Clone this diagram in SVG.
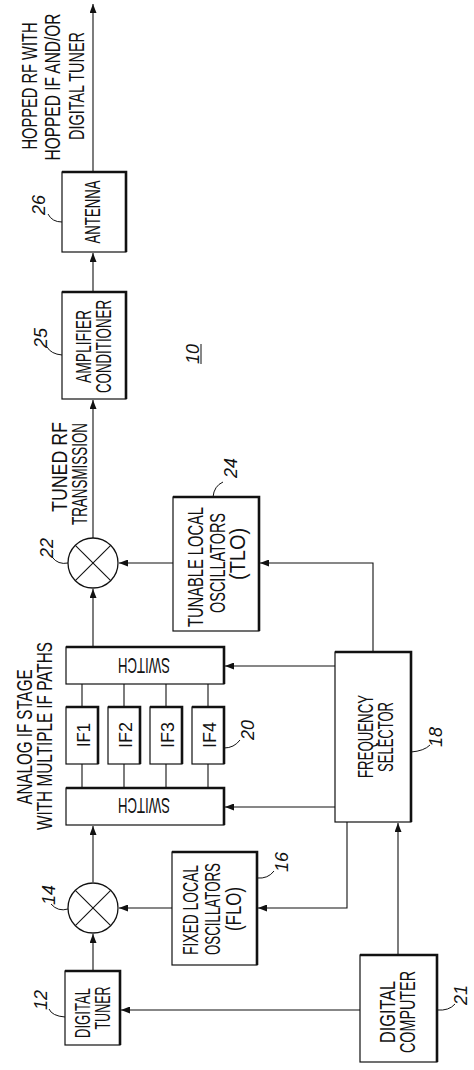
<svg xmlns="http://www.w3.org/2000/svg" width="474" height="1070" viewBox="0 0 474 1070">
<style>
.box{fill:#fff;stroke:#111;stroke-width:1.2}
.thick{fill:none;stroke:#111;stroke-width:2.6}
.t{font-family:"Liberation Sans",Arial,sans-serif;font-size:22px;fill:#111;text-anchor:middle}
.n{font-family:"Liberation Sans",Arial,sans-serif;font-size:18px;font-style:italic;fill:#111;text-anchor:middle}
.ln{fill:none;stroke:#111;stroke-width:1.1}
.ld{fill:none;stroke:#111;stroke-width:1}
</style>
<defs>
<marker id="ar" markerUnits="userSpaceOnUse" markerWidth="9" markerHeight="7" refX="9" refY="3.5" orient="auto">
<path d="M0,0 L9,3.5 L0,7 z" fill="#111"/>
</marker>
</defs>
<rect width="474" height="1070" fill="#fff"/>

<g id="connectors">
<line class="ln" x1="93" y1="971" x2="93" y2="934" marker-end="url(#ar)"/>
<line class="ln" x1="93" y1="882" x2="93" y2="826" marker-end="url(#ar)"/>
<line class="ln" x1="172" y1="908" x2="119" y2="908" marker-end="url(#ar)"/>
<polyline class="ln" points="347,822 347,908 258,908" marker-end="url(#ar)"/>
<line class="ln" x1="398" y1="955" x2="398" y2="823" marker-end="url(#ar)"/>
<line class="ln" x1="360" y1="1010" x2="121" y2="1010" marker-end="url(#ar)"/>
<line class="ln" x1="335" y1="807" x2="225" y2="807" marker-end="url(#ar)"/>
<line class="ln" x1="335" y1="666" x2="225" y2="666" marker-end="url(#ar)"/>
<polyline class="ln" points="373,652 373,563 260,563" marker-end="url(#ar)"/>
<line class="ln" x1="173" y1="563" x2="119" y2="563" marker-end="url(#ar)"/>
<line class="ln" x1="93" y1="647" x2="93" y2="589" marker-end="url(#ar)"/>
<line class="ln" x1="93" y1="538" x2="93" y2="400" marker-end="url(#ar)"/>
<line class="ln" x1="93" y1="292" x2="93" y2="253" marker-end="url(#ar)"/>
<line class="ln" x1="93" y1="172" x2="93" y2="4" marker-end="url(#ar)"/>
<line class="ln" x1="82" y1="684" x2="82" y2="707"/>
<line class="ln" x1="124" y1="684" x2="124" y2="707"/>
<line class="ln" x1="166" y1="684" x2="166" y2="707"/>
<line class="ln" x1="208" y1="684" x2="208" y2="707"/>
<line class="ln" x1="82" y1="764" x2="82" y2="788"/>
<line class="ln" x1="124" y1="764" x2="124" y2="788"/>
<line class="ln" x1="166" y1="764" x2="166" y2="788"/>
<line class="ln" x1="208" y1="764" x2="208" y2="788"/>
</g>

<g id="output-label">
<text class="t" transform="translate(37,86) rotate(-90) scale(0.6,1)" textLength="211.7" lengthAdjust="spacingAndGlyphs">HOPPED RF WITH</text>
<text class="t" transform="translate(60,87) rotate(-90) scale(0.6,1)" textLength="245" lengthAdjust="spacingAndGlyphs">HOPPED IF AND/OR</text>
<text class="t" transform="translate(84,86) rotate(-90) scale(0.6,1)" textLength="180" lengthAdjust="spacingAndGlyphs">DIGITAL TUNER</text>
</g>

<g id="antenna">
<rect class="box" x="62" y="172" width="64" height="80"/>
<path class="thick" d="M62,172 H126 V252"/>
<text class="t" transform="translate(100,212) rotate(-90) scale(0.6,1)" textLength="105" lengthAdjust="spacingAndGlyphs">ANTENNA</text>
<text class="n" transform="translate(45,205) rotate(-90)">26</text>
<path class="ld" d="M62,222 Q52,222 48,214"/>
</g>

<g id="amplifier">
<rect class="box" x="62" y="292" width="64" height="107"/>
<path class="thick" d="M62,292 H126 V399"/>
<text class="t" transform="translate(91,346.5) rotate(-90) scale(0.6,1)" textLength="121.7" lengthAdjust="spacingAndGlyphs">AMPLIFIER</text>
<text class="t" transform="translate(111,346.5) rotate(-90) scale(0.6,1)" textLength="155" lengthAdjust="spacingAndGlyphs">CONDITIONER</text>
<text class="n" transform="translate(47,338) rotate(-90)">25</text>
<path class="ld" d="M62,355 Q51,354 47,347"/>
</g>

<g id="ref10">
<text class="n" transform="translate(199,354) rotate(-90)">10</text>
<line class="ld" x1="201" y1="344" x2="201" y2="364"/>
</g>

<g id="tuned-label">
<text class="t" transform="translate(67,467) rotate(-90) scale(0.6,1)" textLength="150" lengthAdjust="spacingAndGlyphs">TUNED RF</text>
<text class="t" transform="translate(87,474) rotate(-90) scale(0.6,1)" textLength="170" lengthAdjust="spacingAndGlyphs">TRANSMISSION</text>
</g>

<g id="mixer22">
<circle cx="93" cy="563" r="25" fill="#fff" stroke="#111" stroke-width="1.3"/>
<line class="ln" x1="75.3" y1="545.3" x2="110.7" y2="580.7"/>
<line class="ln" x1="110.7" y1="545.3" x2="75.3" y2="580.7"/>
<text class="n" transform="translate(53,548) rotate(-90)">22</text>
<path class="ld" d="M52,557 Q58,565 68,563"/>
</g>

<g id="tlo">
<rect class="box" x="173" y="497" width="86" height="134"/>
<path class="thick" d="M173,497 H259 V631"/>
<text class="t" transform="translate(203,567) rotate(-90) scale(0.6,1)" textLength="200" lengthAdjust="spacingAndGlyphs">TUNABLE LOCAL</text>
<text class="t" transform="translate(225,563) rotate(-90) scale(0.6,1)" textLength="166.7" lengthAdjust="spacingAndGlyphs">OSCILLATORS</text>
<text class="t" transform="translate(245,554) rotate(-90) scale(0.6,1)" textLength="86.7" lengthAdjust="spacingAndGlyphs">(TLO)</text>
<text class="n" transform="translate(237,468) rotate(-90)">24</text>
<path class="ld" d="M213,497 Q214,486 223,482"/>
</g>

<g id="if-label">
<text class="t" transform="translate(32,737) rotate(-90) scale(0.6,1)" textLength="225" lengthAdjust="spacingAndGlyphs">ANALOG IF STAGE</text>
<text class="t" transform="translate(52,736) rotate(-90) scale(0.6,1)" textLength="313.3" lengthAdjust="spacingAndGlyphs">WITH MULTIPLE IF PATHS</text>
</g>

<g id="switch-upper">
<rect class="box" x="66" y="647" width="158" height="37"/>
<path class="thick" d="M66,647 H224 V684"/>
<text class="t" transform="translate(144,658) rotate(180) scale(0.6,1)" textLength="86.7" lengthAdjust="spacingAndGlyphs">SWITCH</text>
</g>

<g id="if1">
<rect class="box" x="66" y="707" width="32" height="57"/>
<path class="thick" d="M66,707 H98 V764"/>
<text class="t" style="font-size:18px" transform="translate(90,735) rotate(-90) scale(0.6,1)" textLength="40" lengthAdjust="spacingAndGlyphs">IF1</text>
</g>
<g id="if2">
<rect class="box" x="108" y="707" width="32" height="57"/>
<path class="thick" d="M108,707 H140 V764"/>
<text class="t" style="font-size:18px" transform="translate(132,735) rotate(-90) scale(0.6,1)" textLength="43.3" lengthAdjust="spacingAndGlyphs">IF2</text>
</g>
<g id="if3">
<rect class="box" x="150" y="707" width="32" height="57"/>
<path class="thick" d="M150,707 H182 V764"/>
<text class="t" style="font-size:18px" transform="translate(174,735) rotate(-90) scale(0.6,1)" textLength="43.3" lengthAdjust="spacingAndGlyphs">IF3</text>
</g>
<g id="if4">
<rect class="box" x="192" y="707" width="32" height="57"/>
<path class="thick" d="M192,707 H224 V764"/>
<text class="t" style="font-size:18px" transform="translate(216,735) rotate(-90) scale(0.6,1)" textLength="43.3" lengthAdjust="spacingAndGlyphs">IF4</text>
<text class="n" transform="translate(254,730) rotate(-90)">20</text>
<path class="ld" d="M224,748 Q234,748 240,740"/>
</g>

<g id="switch-lower">
<rect class="box" x="66" y="788" width="158" height="37"/>
<path class="thick" d="M66,788 H224 V825"/>
<text class="t" transform="translate(144,798) rotate(180) scale(0.6,1)" textLength="86.7" lengthAdjust="spacingAndGlyphs">SWITCH</text>
</g>

<g id="freq-selector">
<rect class="box" x="335" y="652" width="76" height="170"/>
<path class="thick" d="M335,652 H411 V822"/>
<text class="t" transform="translate(373,736.5) rotate(-90) scale(0.6,1)" textLength="138.3" lengthAdjust="spacingAndGlyphs">FREQUENCY</text>
<text class="t" transform="translate(393,737) rotate(-90) scale(0.6,1)" textLength="116.7" lengthAdjust="spacingAndGlyphs">SELECTOR</text>
<text class="n" transform="translate(442,737) rotate(-90)">18</text>
<path class="ld" d="M411,752 Q424,751 430,745"/>
</g>

<g id="mixer14">
<circle cx="93" cy="908" r="25" fill="#fff" stroke="#111" stroke-width="1.3"/>
<line class="ln" x1="75.3" y1="890.3" x2="110.7" y2="925.7"/>
<line class="ln" x1="110.7" y1="890.3" x2="75.3" y2="925.7"/>
<text class="n" transform="translate(55,895) rotate(-90)">14</text>
<path class="ld" d="M51,904 Q58,912 68,909"/>
</g>

<g id="flo">
<rect class="box" x="172" y="852" width="85" height="113"/>
<path class="thick" d="M172,852 H257 V965"/>
<text class="t" transform="translate(198,910) rotate(-90) scale(0.6,1)" textLength="150" lengthAdjust="spacingAndGlyphs">FIXED LOCAL</text>
<text class="t" transform="translate(220,909) rotate(-90) scale(0.6,1)" textLength="153.3" lengthAdjust="spacingAndGlyphs">OSCILLATORS</text>
<text class="t" transform="translate(241,909) rotate(-90) scale(0.6,1)" textLength="73.3" lengthAdjust="spacingAndGlyphs">(FLO)</text>
<text class="n" transform="translate(288,862) rotate(-90)">16</text>
<path class="ld" d="M257,878 Q268,879 274,871"/>
</g>

<g id="digital-tuner">
<rect class="box" x="65" y="971" width="55" height="74"/>
<path class="thick" d="M65,971 H120 V1045"/>
<text class="t" transform="translate(90,1013) rotate(-90) scale(0.6,1)" textLength="83.3" lengthAdjust="spacingAndGlyphs">DIGITAL</text>
<text class="t" transform="translate(110,1008) rotate(-90) scale(0.6,1)" textLength="71.7" lengthAdjust="spacingAndGlyphs">TUNER</text>
<text class="n" transform="translate(47,1000) rotate(-90)">12</text>
<path class="ld" d="M65,1017 Q52,1016 49,1009"/>
</g>

<g id="digital-computer">
<rect class="box" x="360" y="955" width="77" height="107"/>
<path class="thick" d="M360,955 H437 V1062"/>
<text class="t" transform="translate(395,1012) rotate(-90) scale(0.6,1)" textLength="103.3" lengthAdjust="spacingAndGlyphs">DIGITAL</text>
<text class="t" transform="translate(415,1012) rotate(-90) scale(0.6,1)" textLength="136.7" lengthAdjust="spacingAndGlyphs">COMPUTER</text>
<text class="n" transform="translate(467,995) rotate(-90)">21</text>
<path class="ld" d="M437,1010 Q449,1011 455,1004"/>
</g>
</svg>
